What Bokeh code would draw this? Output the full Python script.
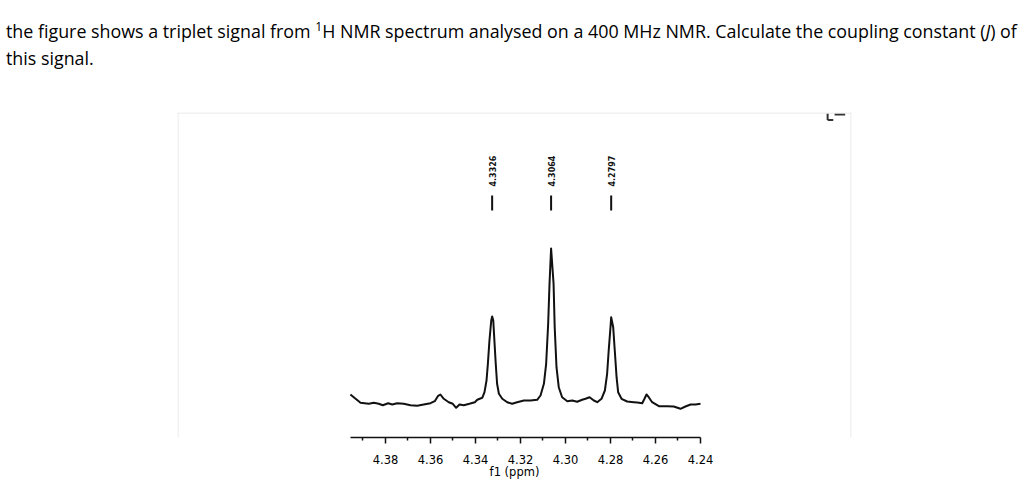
import math
from bokeh.plotting import figure
from bokeh.models import Range1d, FixedTicker, Div, Span
from bokeh.layouts import column
from bokeh.core.properties import value
from bokeh.embed import file_html
from bokeh.resources import INLINE

# ---- data ----
ppm = [4.3956, 4.3911, 4.3874, 4.3852, 4.3830, 4.3812, 4.3788, 4.3770, 4.3748, 4.3719,
       4.3689, 4.3659, 4.3630, 4.3600, 4.3581, 4.3566, 4.3556, 4.3541, 4.3519, 4.3501,
       4.3486, 4.3471, 4.3452, 4.3427, 4.3403, 4.3392, 4.3370, 4.3360, 4.3351, 4.3345,
       4.3338, 4.3330, 4.3326, 4.3321, 4.3316, 4.3310, 4.3304, 4.3296, 4.3281, 4.3259,
       4.3237, 4.3215, 4.3185, 4.3156, 4.3126, 4.3111, 4.3096, 4.3086, 4.3077, 4.3071,
       4.3064, 4.3053, 4.3048, 4.3040, 4.3030, 4.3015, 4.2992, 4.2970, 4.2948, 4.2926,
       4.2911, 4.2893, 4.2874, 4.2859, 4.2840, 4.2825, 4.2815, 4.2808, 4.2800, 4.2797,
       4.2788, 4.2781, 4.2773, 4.2766, 4.2751, 4.2726, 4.2696, 4.2681, 4.2659, 4.2649,
       4.2640, 4.2630, 4.2615, 4.2585, 4.2548, 4.2519, 4.2489, 4.2467, 4.2444, 4.2422,
       4.2400]
intensity = [11.0, 2.7, 1.7, 2.7, 1.7, 0.3, 2.3, 1.0, 2.3, 1.7,
             0.3, -0.3, 1.0, 2.3, 4.3, 9.7, 11.0, 6.7, 3.3, 1.7,
             -2.3, 1.0, 0.3, 1.7, 3.3, 5.7, 7.7, 13.3, 25.0, 41.7,
             65.0, 85.0, 89.0, 85.0, 65.0, 41.7, 21.7, 11.7, 6.7, 3.3,
             1.7, 3.3, 5.0, 5.0, 5.7, 10.0, 21.7, 41.7, 81.7, 121.7,
             157.0, 121.7, 78.3, 38.3, 18.3, 8.3, 4.3, 5.0, 3.7, 5.7,
             6.7, 8.3, 5.0, 3.3, 6.7, 15.0, 31.7, 55.0, 78.3, 88.3,
             78.3, 55.0, 28.3, 13.3, 6.7, 4.0, 3.3, 3.0, 2.3, 6.7,
             11.0, 8.3, 3.3, -0.7, -0.7, -1.0, -3.3, -1.0, 1.0, 1.0,
             1.7]

peak_ppm = [4.3326, 4.3064, 4.2797]
peak_labels = ["4.3326", "4.3064", "4.2797"]

major_ticks = [4.38, 4.36, 4.34, 4.32, 4.30, 4.28, 4.26, 4.24]
minor_ticks = [4.39, 4.37, 4.35, 4.33, 4.31, 4.29, 4.27, 4.25]
tick_labels = ["4.38", "4.36", "4.34", "4.32", "4.30", "4.28", "4.26", "4.24"]

axis_bounds = (4.24, 4.3956)

question_line1 = ('the figure shows a triplet signal from '
                  '<span style="font-size:0.68em;position:relative;top:-0.55em;">1</span>'
                  'H NMR spectrum analysed on a 400 MHz NMR. Calculate the coupling constant (<i>J</i>) of')
question_line2 = 'this signal.'

# small corner mark of the cropped figure (top right)
corner_x0 = [4.1835, 4.1835, 4.1804]
corner_x1 = [4.1835, 4.1810, 4.1757]
corner_y0 = [292.0, 285.5, 291.0]
corner_y1 = [285.5, 285.5, 291.0]

# ---- layout ----
div = Div(
    text=('<div style="font-family:\'Open Sans\';font-size:17.85px;line-height:25px;color:#000;'
          'padding:19px 0 0 6px;white-space:nowrap;">' + question_line1 + '<br>' + question_line2 + '</div>'),
    width=1024, height=100, margin=(0, 0, 0, 0))

p = figure(width=1024, height=384, output_backend="svg", toolbar_location=None,
           x_range=Range1d(4.47244, 4.17289), y_range=Range1d(-32, 293),
           y_axis_location=None,
           min_border_left=177, min_border_right=173, min_border_top=12, min_border_bottom=47,
           margin=(0, 0, 0, 0))
p.outline_line_color = None
p.xgrid.visible = False
p.ygrid.visible = False
p.background_fill_color = "white"
p.border_fill_color = "white"

# faint frame box of the embedded image
box_color = "#e4e4e4"
p.add_layout(Span(location=4.47222, dimension="height", line_color=box_color, line_width=1))
p.add_layout(Span(location=4.17311, dimension="height", line_color=box_color, line_width=1))
p.add_layout(Span(location=292.5, dimension="width", line_color=box_color, line_width=1))

p.line(ppm, intensity, line_width=2, line_color="#111111", line_join="round")

p.segment(x0=peak_ppm, y0=[195] * 3, x1=peak_ppm, y1=[210] * 3,
          line_width=2, line_color="#111111")
p.text(x=peak_ppm, y=[219] * 3, text=peak_labels, angle=math.pi / 2,
       text_align="left", text_baseline="middle",
       text_font=value("DejaVu Sans"), text_font_size="8px", text_font_style="bold",
       text_color="#111111")

p.segment(x0=corner_x0, y0=corner_y0, x1=corner_x1, y1=corner_y1,
          line_width=2, line_color="#333333")

ax = p.xaxis[0]
ax.ticker = FixedTicker(ticks=major_ticks, minor_ticks=minor_ticks)
ax.major_label_overrides = {t: l for t, l in zip(major_ticks, tick_labels)}
ax.bounds = axis_bounds
ax.axis_line_width = 1.5
ax.axis_line_color = "#111111"
ax.major_tick_out = 6
ax.major_tick_in = 0
ax.minor_tick_out = 3
ax.minor_tick_in = 0
ax.major_tick_line_width = 1.5
ax.minor_tick_line_width = 1.5
ax.major_tick_line_color = "#111111"
ax.minor_tick_line_color = "#111111"
ax.major_label_text_font = "DejaVu Sans"
ax.major_label_text_font_size = "11.5px"
ax.major_label_text_color = "#000000"
ax.major_label_standoff = 11
ax.axis_label = "f1 (ppm)"
ax.axis_label_text_font = "DejaVu Sans"
ax.axis_label_text_font_size = "11.5px"
ax.axis_label_text_font_style = "normal"
ax.axis_label_text_color = "#000000"
ax.axis_label_standoff = -2

layout = column(div, p, margin=(0, 0, 0, 0))
open("out.html", "w").write(file_html(layout, INLINE))
